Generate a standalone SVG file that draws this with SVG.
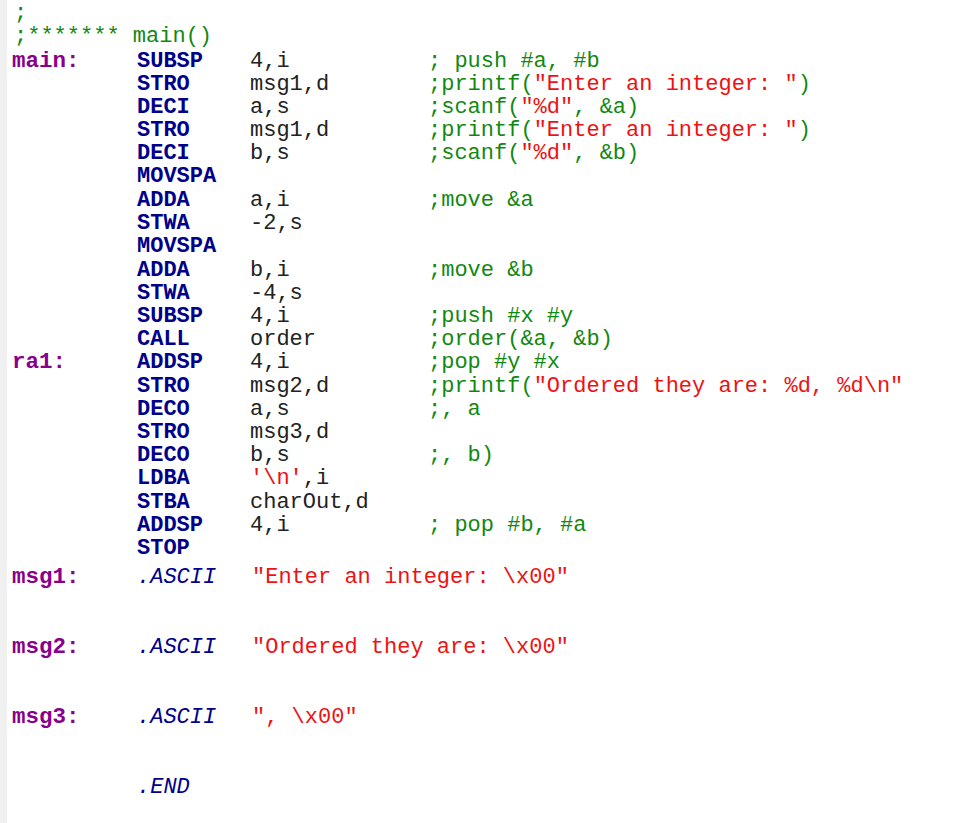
<svg xmlns="http://www.w3.org/2000/svg" width="977" height="823" viewBox="0 0 977 823">
<style>
text{font-family:"Liberation Mono","Courier New",monospace;font-size:22px;white-space:pre}
.l{fill:#8b008b;font-weight:bold;font-size:22.5px}
.m{fill:#00008b;font-weight:bold;font-size:23.5px}
.d{fill:#00008b;font-style:italic;font-size:22px}
.o{fill:#222}
.c{fill:#118811}
.s{fill:#ee1111}
</style>
<rect width="977" height="823" fill="#fff"/>
<rect width="7" height="823" fill="#f0f0f0"/>
<g id="code">
<text x="14" y="19" class="c">;</text>
<text x="14" y="42" class="c">;******* main()</text>
<text x="12" y="67" class="l">main:</text>
<text x="12" y="368" class="l">ra1:</text>
<text x="12" y="583" class="l">msg1:</text>
<text x="12" y="653" class="l">msg2:</text>
<text x="12" y="723" class="l">msg3:</text>
<g class="m">
<text x="137" y="67">SUBSP</text><text x="137" y="90">STRO</text><text x="137" y="113">DECI</text><text x="137" y="136">STRO</text><text x="137" y="159">DECI</text><text x="137" y="182">MOVSPA</text><text x="137" y="206">ADDA</text><text x="137" y="229">STWA</text><text x="137" y="252">MOVSPA</text><text x="137" y="276">ADDA</text><text x="137" y="299">STWA</text><text x="137" y="322">SUBSP</text><text x="137" y="345">CALL</text><text x="137" y="368">ADDSP</text><text x="137" y="392">STRO</text><text x="137" y="415">DECO</text><text x="137" y="438">STRO</text><text x="137" y="461">DECO</text><text x="137" y="484">LDBA</text><text x="137" y="508">STBA</text><text x="137" y="531">ADDSP</text><text x="137" y="554">STOP</text>
</g>
<text x="137" y="583" class="d">.ASCII</text>
<text x="137" y="653" class="d">.ASCII</text>
<text x="137" y="723" class="d">.ASCII</text>
<text x="137" y="793" class="d">.END</text>
<g class="o">
<text x="250" y="67">4,i</text><text x="250" y="90">msg1,d</text><text x="250" y="113">a,s</text><text x="250" y="136">msg1,d</text><text x="250" y="159">b,s</text><text x="250" y="206">a,i</text><text x="250" y="229">-2,s</text><text x="250" y="276">b,i</text><text x="250" y="299">-4,s</text><text x="250" y="322">4,i</text><text x="250" y="345">order</text><text x="250" y="368">4,i</text><text x="250" y="392">msg2,d</text><text x="250" y="415">a,s</text><text x="250" y="438">msg3,d</text><text x="250" y="461">b,s</text><text x="250" y="484"><tspan class="s">'\n'</tspan>,i</text><text x="250" y="508">charOut,d</text><text x="250" y="531">4,i</text>
</g>
<g class="c">
<text x="428" y="67">; push #a, #b</text>
<text x="428" y="90">;printf(<tspan class="s">"Enter an integer: "</tspan>)</text>
<text x="428" y="113">;scanf(<tspan class="s">"%d"</tspan>, &amp;a)</text>
<text x="428" y="136">;printf(<tspan class="s">"Enter an integer: "</tspan>)</text>
<text x="428" y="159">;scanf(<tspan class="s">"%d"</tspan>, &amp;b)</text>
<text x="428" y="206">;move &amp;a</text>
<text x="428" y="276">;move &amp;b</text>
<text x="428" y="322">;push #x #y</text>
<text x="428" y="345">;order(&amp;a, &amp;b)</text>
<text x="428" y="368">;pop #y #x</text>
<text x="428" y="392">;printf(<tspan class="s">"Ordered they are: %d, %d\n"</tspan></text>
<text x="428" y="415">;, a</text>
<text x="428" y="461">;, b)</text>
<text x="428" y="531">; pop #b, #a</text>
</g>
<text x="252" y="583" class="s">"Enter an integer: \x00"</text>
<text x="252" y="653" class="s">"Ordered they are: \x00"</text>
<text x="252" y="723" class="s">", \x00"</text>
</g>
</svg>
